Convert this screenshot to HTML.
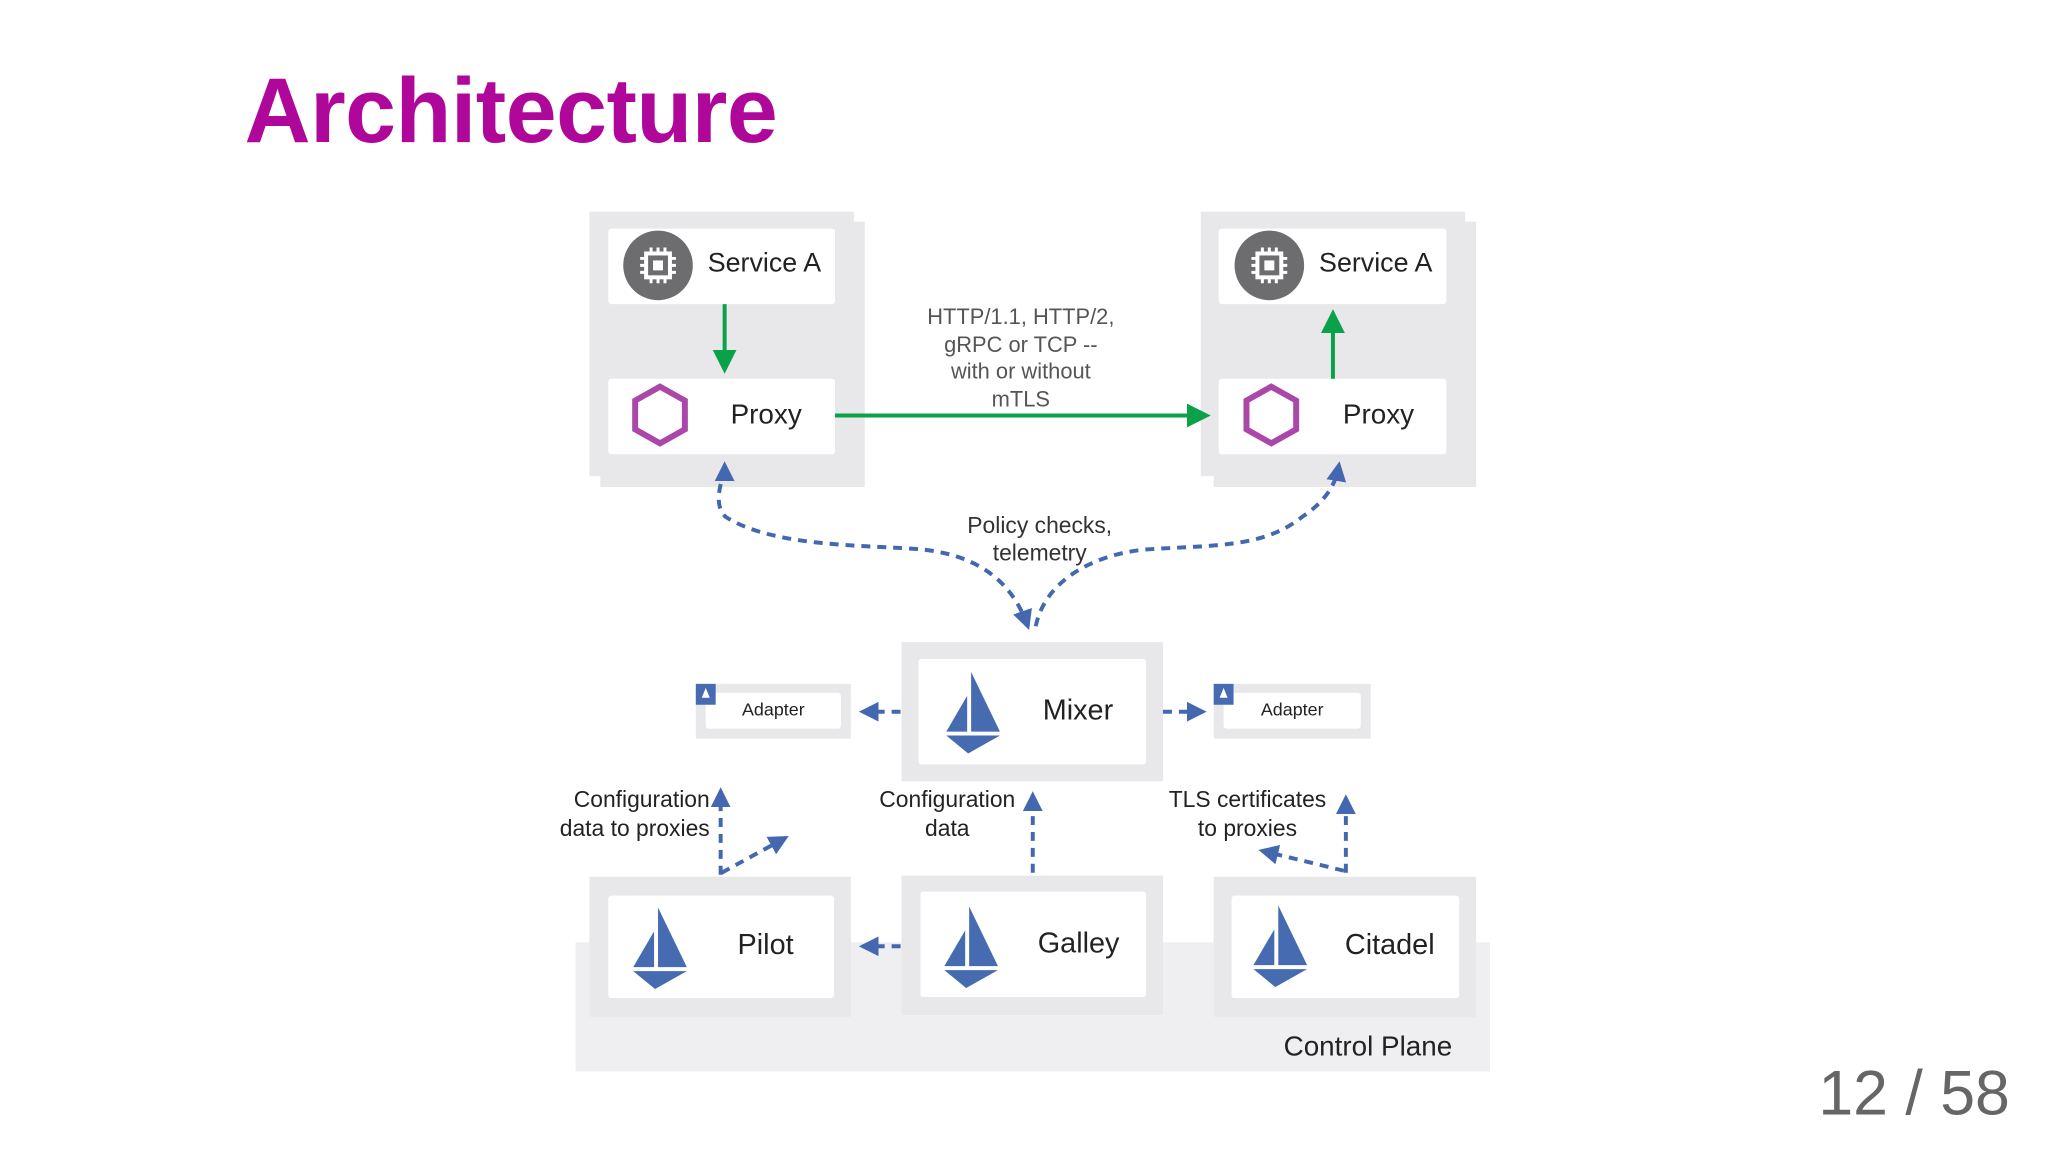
<!DOCTYPE html>
<html><head><meta charset="utf-8">
<style>
body{margin:0;width:2048px;height:1154px;background:#fff;position:relative;overflow:hidden;font-family:"Liberation Sans",sans-serif;}
#wrap{position:absolute;left:0;top:0;width:2048px;height:1154px;transform:scale(0.994);transform-origin:0 0;}
.b{position:absolute;background:#e8e8ea;}
.w{position:absolute;background:#fff;border-radius:3px;}
.t{position:absolute;color:#222;white-space:nowrap;}
</style></head><body><div id="wrap">
<div class="t" style="left:246px;top:60px;font-size:92px;font-weight:bold;color:#b0079b;letter-spacing:-0.5px">Architecture</div>

<div class="b" style="left:604px;top:223px;width:266px;height:267px"></div>
<div class="b" style="left:593px;top:213px;width:266px;height:266px"></div>
<div class="w" style="left:612px;top:230px;width:228px;height:76px"></div>
<div class="w" style="left:612px;top:381px;width:228px;height:76px"></div>
<div class="b" style="left:1221px;top:223px;width:264px;height:267px"></div>
<div class="b" style="left:1208px;top:213px;width:266px;height:266px"></div>
<div class="w" style="left:1226px;top:230px;width:229px;height:76px"></div>
<div class="w" style="left:1226px;top:381px;width:229px;height:76px"></div>

<div class="b" style="left:579px;top:948px;width:920px;height:130px;background:#efeff1"></div>
<div class="t" style="left:1290px;top:1037px;width:171px;text-align:right;font-size:28px">Control Plane</div>

<div class="b" style="left:907px;top:646px;width:263px;height:140px"></div>
<div class="w" style="left:924px;top:663px;width:229px;height:106px"></div>
<div class="b" style="left:700px;top:688px;width:156px;height:55px"></div>
<div class="w" style="left:710px;top:697px;width:136px;height:36px"></div>
<div class="b" style="left:1221px;top:688px;width:158px;height:55px"></div>
<div class="w" style="left:1231px;top:697px;width:138px;height:36px"></div>
<div class="t" style="left:710px;top:704px;width:136px;text-align:center;font-size:18px">Adapter</div>
<div class="t" style="left:1231px;top:704px;width:138px;text-align:center;font-size:18px">Adapter</div>

<div class="b" style="left:593px;top:882px;width:263px;height:141px"></div>
<div class="w" style="left:612px;top:901px;width:227px;height:103px"></div>
<div class="b" style="left:907px;top:881px;width:263px;height:140px"></div>
<div class="w" style="left:926px;top:897px;width:227px;height:106px"></div>
<div class="b" style="left:1221px;top:882px;width:264px;height:141px"></div>
<div class="w" style="left:1239px;top:901px;width:229px;height:103px"></div>

<div class="t" style="left:712px;top:249px;font-size:27px">Service A</div>
<div class="t" style="left:1327px;top:249px;font-size:27px">Service A</div>
<div class="t" style="left:735px;top:401px;font-size:28px">Proxy</div>
<div class="t" style="left:1351px;top:401px;font-size:28px">Proxy</div>
<div class="t" style="left:1049px;top:699px;font-size:29px">Mixer</div>
<div class="t" style="left:742px;top:935px;font-size:29px">Pilot</div>
<div class="t" style="left:1044px;top:933px;font-size:29px">Galley</div>
<div class="t" style="left:1353px;top:935px;font-size:29px">Citadel</div>

<div class="t" style="left:900px;top:305px;width:254px;text-align:center;font-size:22px;line-height:27.5px;color:#555">HTTP/1.1, HTTP/2,<br>gRPC or TCP --<br>with or without<br>mTLS</div>
<div class="t" style="left:920px;top:514px;width:252px;text-align:center;font-size:23px;line-height:28px;color:#333">Policy checks,<br>telemetry</div>
<div class="t" style="left:514px;top:790px;width:200px;text-align:right;font-size:23px;line-height:29px;color:#222">Configuration<br>data to proxies</div>
<div class="t" style="left:853px;top:790px;width:200px;text-align:center;font-size:23px;line-height:29px;color:#222">Configuration<br>data</div>
<div class="t" style="left:1135px;top:790px;width:240px;text-align:center;font-size:23px;line-height:29px;color:#222">TLS certificates<br>to proxies</div>

<div class="t" style="left:1700px;top:1064px;width:322px;text-align:right;font-size:63px;color:#666">12 / 58</div>

<svg width="2048" height="1154" style="position:absolute;left:0;top:0">
<defs>
<marker id="g" markerWidth="6" markerHeight="6" refX="5" refY="3" orient="auto" markerUnits="strokeWidth"><path d="M0,0L6,3L0,6z" fill="#0aa14a"/></marker>
<marker id="bl" markerWidth="5" markerHeight="5" refX="4" refY="2.5" orient="auto-start-reverse" markerUnits="strokeWidth"><path d="M0,0L5,2.5L0,5z" fill="#4468b0"/></marker>
<symbol id="sail" viewBox="0 0 55 82">
<path d="M25,0L54,60L25,60z" fill="#466bb0"/>
<path d="M21,24L0,60L21,60z" fill="#466bb0"/>
<path d="M0,64L54,64L22,82z" fill="#466bb0"/>
</symbol>
</defs>
<g id="chip">
<circle cx="662" cy="267" r="35" fill="#6d6d70"/>
<rect x="650" y="255" width="24" height="24" fill="none" stroke="#fff" stroke-width="4"/>
<rect x="657" y="262" width="10" height="10" fill="#fff"/>
<g stroke="#fff" stroke-width="3">
<path d="M655,249v6M662,249v6M669,249v6M655,279v6M662,279v6M669,279v6M644,260h6M644,267h6M644,274h6M674,260h6M674,267h6M674,274h6"/>
</g>
</g>
<use href="#chip" x="615" y="0"/>
<polygon points="664,389 689,403 689,432 664,446 639,432 639,403" fill="none" stroke="#ab47a8" stroke-width="6"/>
<polygon points="1279,389 1304,403 1304,432 1279,446 1254,432 1254,403" fill="none" stroke="#ab47a8" stroke-width="6"/>
<line x1="729" y1="306" x2="729" y2="372" stroke="#0aa14a" stroke-width="4" marker-end="url(#g)"/>
<line x1="1341" y1="381" x2="1341" y2="315" stroke="#0aa14a" stroke-width="4" marker-end="url(#g)"/>
<line x1="840" y1="418" x2="1214" y2="418" stroke="#0aa14a" stroke-width="4" marker-end="url(#g)"/>
<g fill="none" stroke="#4468b0" stroke-width="4" stroke-dasharray="9,7">
<path d="M1034,630 C1020,590 990,560 930,553 C880,548 780,552 730,520 C715,505 729,480 729,468" marker-start="url(#bl)" marker-end="url(#bl)"/>
<path d="M1042,630 C1050,590 1090,560 1150,553 C1220,548 1270,552 1310,520 C1340,500 1345,480 1347,468" marker-end="url(#bl)"/>
<path d="M906,716 L868,716" marker-end="url(#bl)"/>
<path d="M1170,716 L1210,716" marker-end="url(#bl)"/>
<path d="M906,952 L868,952" marker-end="url(#bl)"/>
<path d="M725,880 L725,796" marker-end="url(#bl)"/>
<path d="M726,878 L790,843" marker-end="url(#bl)"/>
<path d="M1039,878 L1039,800" marker-end="url(#bl)"/>
<path d="M1354,878 L1354,803" marker-end="url(#bl)"/>
<path d="M1352,876 L1270,856" marker-end="url(#bl)"/>
</g>
<use href="#sail" x="952" y="676" width="55" height="82"/>
<use href="#sail" x="637" y="913" width="55" height="82"/>
<use href="#sail" x="950" y="912" width="55" height="82"/>
<use href="#sail" x="1261" y="911" width="55" height="82"/>
<rect x="700" y="688" width="20" height="21" fill="#466bb0"/>
<path d="M710,692L714,702L706,702z" fill="#fff"/>
<rect x="1221" y="688" width="20" height="21" fill="#466bb0"/>
<path d="M1231,692L1235,702L1227,702z" fill="#fff"/>
</svg>
</div></body></html>
